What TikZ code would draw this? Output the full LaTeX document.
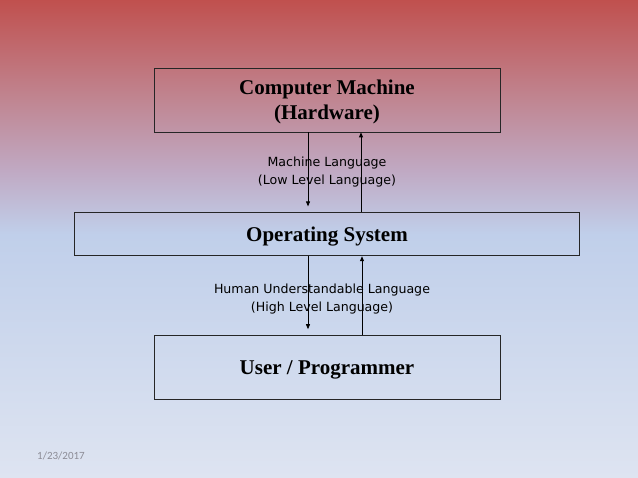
\documentclass[tikz,border=0pt]{standalone}
\usepackage{fontspec}
\setmainfont{Liberation Serif}
\newfontfamily\labelfont{DejaVu Sans}
\newfontfamily\datefont{Carlito}
\usetikzlibrary{positioning, arrows.meta, calc}

\definecolor{bgtop}{RGB}{192,80,78}
\definecolor{bgpink}{RGB}{192,134,146}
\definecolor{bgmauve}{RGB}{192,170,196}
\definecolor{bgblue}{RGB}{192,207,234}
\definecolor{bgbottom}{RGB}{222,228,241}
\definecolor{dategray}{RGB}{140,140,150}
% the path is mapped onto 25bp..75bp of the shading
\pgfdeclareverticalshading{slidebg}{100bp}{color(0bp)=(bgbottom); color(25bp)=(bgbottom); color(50.5bp)=(bgblue); color(57bp)=(bgmauve); color(64.5bp)=(bgpink); color(75bp)=(bgtop); color(100bp)=(bgtop)}

\begin{document}
\begin{tikzpicture}[x=1pt, y=-1pt,
  layerbox/.style={rectangle, draw=black!85, line width=0.8pt, font=\bfseries\fontsize{21}{25}\selectfont, align=center, text depth=0pt},
  langlabel/.style={font=\labelfont\fontsize{12.6}{18}\selectfont, align=center}]
\shade[shading=slidebg] (0,0) rectangle (638,478);
\useasboundingbox (0,0) rectangle (638,478);
\node[layerbox, minimum width=346pt, minimum height=64pt]   (hardware)  at (327,100) {Computer Machine\\(Hardware)};
\node[layerbox, minimum width=505pt, minimum height=43pt]   (os)        [below=80pt of hardware] {Operating System};
\node[layerbox, minimum width=346pt, minimum height=64pt]   (user)      [below=79pt of os] {User / Programmer};
\node[langlabel]   (lowlang)   at ($(hardware.south)!0.5!(os.north)$) {Machine Language\\(Low Level Language)};
\node[langlabel]   (highlang)  at ($(os.south)!0.5!(user.north)+(-5,3)$) {Human Understandable Language\\(High Level Language)};
\node[font=\datefont\fontsize{11}{13}\selectfont, text=dategray] (date) at (61,456) {1/23/2017};
\draw[->, >={Triangle[length=5pt, width=4pt]}, line width=0.8pt] ([xshift=-19pt]hardware.south) to ([xshift=-19pt, yshift=6pt]os.north);
\draw[->, >={Triangle[length=5pt, width=4pt]}, line width=0.8pt] ([xshift=34pt]os.north) to ([xshift=34pt]hardware.south);
\draw[->, >={Triangle[length=5pt, width=4pt]}, line width=0.8pt] ([xshift=-19pt]os.south) to ([xshift=-19pt, yshift=6pt]user.north);
\draw[->, >={Triangle[length=5pt, width=4pt]}, line width=0.8pt] ([xshift=35pt]user.north) to ([xshift=35pt]os.south);
\end{tikzpicture}
\end{document}
